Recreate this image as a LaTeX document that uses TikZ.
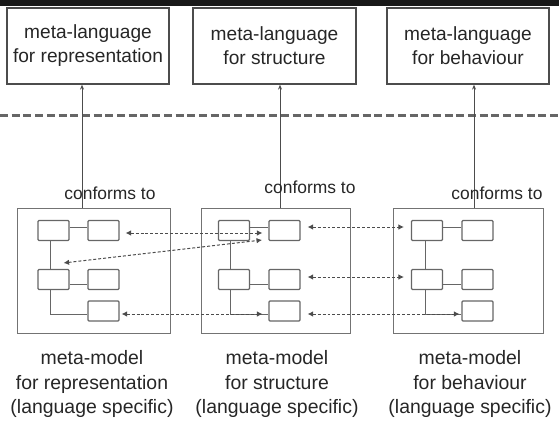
\documentclass[tikz,border=0pt]{standalone}
\usepackage{fontspec}
\setmainfont{Liberation Sans}
\usetikzlibrary{arrows.meta,calc}
\begin{document}
\begin{tikzpicture}[x=1bp,y=-1bp,
  lang/.style={draw=black!70, line width=1.3bp, minimum height=76bp, inner sep=0, align=center, font=\fontsize{19.2}{24}\selectfont, text=black!85},
  model/.style={draw=black!55, line width=1bp, minimum height=125bp, inner sep=0},
  cell/.style={draw=black!60, line width=1.1bp, minimum width=31bp, minimum height=20bp, inner sep=0, rounded corners=1bp},
  link/.style={draw=black!60, line width=1bp},
  conf/.style={draw=black!70, line width=1bp, -{Stealth[length=5bp,width=4bp]}},
  rel/.style={draw=black!70, line width=1bp, densely dashed, {Latex[length=5.5bp,width=5.5bp]}-{Latex[length=5.5bp,width=5.5bp]}},
  lbl/.style={font=\fontsize{17.5}{20}\selectfont, text=black!85, inner sep=0},
  capt/.style={align=center, font=\fontsize{19.5}{25}\selectfont, text=black!85, inner sep=0}
]
\useasboundingbox (0,0) rectangle (559,424);
\fill[black!90] (0,0) rectangle (559,5.5);
% top meta-language boxes
\node[lang, minimum width=162bp] (t1) at (88,46) {meta-language\\for representation};
\node[lang, minimum width=163bp] (t2) at (274.5,46) {meta-language\\for structure};
\node[lang, minimum width=162bp] (t3) at (468,46) {meta-language\\for behaviour};
% separator
\draw[black!60, line width=2.5bp, dash pattern=on 8bp off 3.7bp] (0,115.5) -- (559,115.5);
% meta-model boxes
\node[model, minimum width=152bp] (m1) at (94,270.5) {};
\node[model, minimum width=149bp] (m2) at (275.5,270.5) {};
\node[model, minimum width=150bp] (m3) at (468,270.5) {};
% conforms to
\draw[conf] ($(m1.north)+(-12,0)$) -- ($(t1.south)+(-6,0)$);
\draw[conf] ($(m2.north)+(4.5,0)$) -- ($(t2.south)+(5.5,0)$);
\draw[conf] ($(m3.north)+(6,0)$) -- ($(t3.south)+(6,0)$);
\node[lbl] (l1) at (110,193) {conforms to};
\node[lbl] (l2) at (310,187) {conforms to};
\node[lbl] (l3) at (497,193) {conforms to};
% inner structures
\foreach \i/\xa/\xb/\dv in {1/53.5/103.5/-3.5, 2/234/284.5/-4, 3/427/477.5/-2}{
  \node[cell] (a\i) at (\xa,230.5) {};
  \node[cell] (b\i) at (\xb,230.5) {};
  \node[cell] (c\i) at (\xa,279.5) {};
  \node[cell] (d\i) at (\xb,279.5) {};
  \node[cell] (e\i) at (\xb,311) {};
  \draw[link] ($(a\i.east)+(0,-3.5)$) -- ($(b\i.west)+(0,-3.5)$);
  \draw[link] ($(c\i.east)+(0,4.5)$) -- ($(d\i.west)+(0,4.5)$);
  \draw[link] ($(a\i.south)+(\dv,0)$) -- ($(c\i.north)+(\dv,0)$);
  \draw[link] ($(c\i.south)+(\dv,0)$) |- ($(e\i.west)+(0,3)$);
}
% relations
\draw[rel] ($(b1.east)+(6,2.5)$) -- ($(b2.west)+(-6,2.5)$);
\draw[rel] ($(c1.north east)+(-6,-6)$) -- ($(a2.east)+(12,9.5)$);
\draw[rel] ($(e1.east)+(2,3)$) -- ($(e2.west)+(-6,3)$);
\draw[rel] ($(b2.east)+(7,-3.5)$) -- ($(a3.west)+(-7,-3.5)$);
\draw[rel] ($(d2.east)+(7,-2.5)$) -- ($(c3.west)+(-7,-2.5)$);
\draw[rel] ($(e2.east)+(7,3)$) -- ($(e3.west)+(-2,3)$);
% captions
\node[capt] (k1) at (92,384) {meta-model\\for representation\\(language specific)};
\node[capt] (k2) at (277,384) {meta-model\\for structure\\(language specific)};
\node[capt] (k3) at (470,384) {meta-model\\for behaviour\\(language specific)};
\end{tikzpicture}
\end{document}
